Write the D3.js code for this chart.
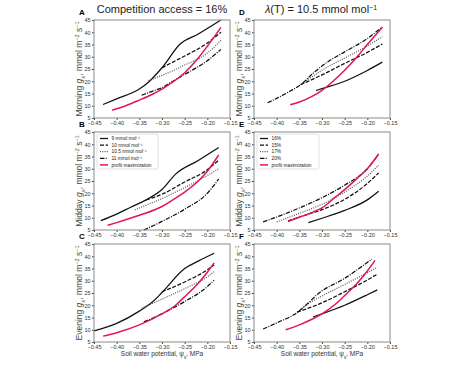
<!DOCTYPE html>
<html>
<head>
<meta charset="utf-8">
<script src="https://cdn.jsdelivr.net/npm/d3@7"></script>
<style>
  body { margin: 0; background: #fff; }
  svg { display: block; font-family: "Liberation Sans", Arial, sans-serif; }
</style>
</head>
<body>
<div id="chart"></div>
<script>
// axis ticks shared by all six panels
const X_TICKS = [-0.45, -0.40, -0.35, -0.30, -0.25, -0.20, -0.15];
const Y_TICKS = [5, 10, 15, 20, 25, 30, 35, 40, 45];

const LEGEND_LEFT  = ["9 mmol mol⁻¹", "10 mmol mol⁻¹", "10.5 mmol mol⁻¹", "11 mmol mol⁻¹", "profit maximization"];
const LEGEND_RIGHT = ["16%", "15%", "17%", "20%", "profit maximization"];
const PERIODS = ["Morning", "Midday", "Evening"];

// A: morning, competition access 16%
const A_9    = [[-0.43,10.5],[-0.40,12.8],[-0.35,16.8],[-0.33,19.6],[-0.30,25.5],[-0.26,35.2],[-0.22,39.3],[-0.17,45]];
const A_10   = [[-0.30,25.5],[-0.27,28.4],[-0.25,30.3],[-0.20,35.6],[-0.17,40]];
const A_105  = [[-0.33,20.3],[-0.30,22.4],[-0.25,26.6],[-0.20,31.5],[-0.17,36.7]];
const A_11   = [[-0.345,14.3],[-0.32,16.0],[-0.30,17.4],[-0.28,19.6],[-0.25,22.8],[-0.20,28.4],[-0.17,33]];
const A_prof = [[-0.41,8.2],[-0.38,10.0],[-0.35,12.3],[-0.32,14.8],[-0.30,16.8],[-0.28,19.2],[-0.25,23.5],[-0.22,29.5],[-0.20,34.3],[-0.17,42]];

// B: midday
const B_9    = [[-0.435,8.8],[-0.40,11.5],[-0.37,14.2],[-0.335,17.3],[-0.30,21.5],[-0.27,27.8],[-0.22,33.4],[-0.175,38.7]];
const B_10   = [[-0.335,17.3],[-0.30,19.6],[-0.25,24.6],[-0.20,29.6],[-0.175,33.5]];
const B_105  = [[-0.36,13.2],[-0.33,15.5],[-0.30,17.8],[-0.27,20.5],[-0.25,22.3],[-0.20,27.2],[-0.175,30]];
const B_11   = [[-0.34,5],[-0.30,8.5],[-0.25,13.5],[-0.20,20],[-0.175,25.8]];
const B_prof = [[-0.42,6.9],[-0.40,8.0],[-0.35,11.0],[-0.30,14.6],[-0.27,18.0],[-0.25,20.5],[-0.22,25],[-0.20,29],[-0.175,35.6]];

// C: evening
const C_9    = [[-0.45,9.5],[-0.40,12.6],[-0.35,17.6],[-0.32,21.5],[-0.30,25.2],[-0.25,35],[-0.22,38],[-0.185,41.2]];
const C_10   = [[-0.30,25.5],[-0.25,29.5],[-0.20,34.5],[-0.185,36.5]];
const C_105  = [[-0.345,18.8],[-0.30,22.5],[-0.25,26.8],[-0.20,31.6],[-0.185,33.7]];
const C_11   = [[-0.34,13.2],[-0.32,14.8],[-0.29,17.5],[-0.25,21.5],[-0.20,27.6],[-0.185,30.2]];
const C_prof = [[-0.43,7.4],[-0.40,8.8],[-0.35,12.0],[-0.30,16.5],[-0.27,20],[-0.25,23.5],[-0.22,29],[-0.20,33.5],[-0.185,37.3]];

// D: morning, lambda(T) = 10.5
const D_16   = [[-0.313,16.2],[-0.30,17.0],[-0.25,20.0],[-0.20,24.4],[-0.167,27.8]];
const D_15   = [[-0.347,18.6],[-0.30,22.6],[-0.25,27.3],[-0.20,31.8],[-0.167,35.2]];
const D_17   = [[-0.347,18.6],[-0.33,20.8],[-0.30,24.5],[-0.25,29.5],[-0.20,34.4],[-0.167,38.2]];
const D_20   = [[-0.42,11.2],[-0.40,13.0],[-0.37,16.0],[-0.347,18.6],[-0.32,23.2],[-0.29,27.6],[-0.25,32.0],[-0.20,37.4],[-0.167,42.2]];
const D_prof = [[-0.37,10.4],[-0.35,11.5],[-0.32,14.0],[-0.30,16.3],[-0.28,19.3],[-0.25,24.5],[-0.22,30.5],[-0.20,35],[-0.167,42]];

// E: midday
const E_16   = [[-0.33,8.0],[-0.30,9.8],[-0.25,13.0],[-0.20,17.3],[-0.175,20.8]];
const E_15   = [[-0.375,8.7],[-0.35,10.3],[-0.30,13.3],[-0.25,17.5],[-0.20,24],[-0.175,28.3]];
const E_17   = [[-0.40,8.3],[-0.35,11.8],[-0.30,15.5],[-0.25,20.5],[-0.20,27],[-0.175,31.5]];
const E_20   = [[-0.43,8.3],[-0.40,10.3],[-0.35,14],[-0.30,18.2],[-0.25,23.3],[-0.20,30],[-0.175,36]];
const E_prof = [[-0.375,8.5],[-0.35,10.2],[-0.32,12.3],[-0.30,14.0],[-0.27,18.5],[-0.25,21.5],[-0.22,26.5],[-0.20,30],[-0.175,36]];

// F: evening
const F_16   = [[-0.32,15.2],[-0.30,16.5],[-0.25,20],[-0.20,24.3],[-0.178,26.3]];
const F_15   = [[-0.355,17.2],[-0.30,21],[-0.25,25.5],[-0.20,30.3],[-0.18,32.5]];
const F_17   = [[-0.355,17.2],[-0.32,21.8],[-0.30,23.8],[-0.25,28.5],[-0.20,33.3],[-0.18,35.3]];
const F_20   = [[-0.43,10.3],[-0.40,12.8],[-0.355,17],[-0.33,21],[-0.31,24.5],[-0.25,31],[-0.19,38.8]];
const F_prof = [[-0.38,10],[-0.35,12],[-0.32,14.5],[-0.30,16.5],[-0.27,20.5],[-0.25,24],[-0.22,29.5],[-0.20,34],[-0.183,38.3]];

// line styles in legend order: solid, dashed, dotted, dash-dot, red
const STYLES = [
  { stroke: "#111", dash: null,        w: 1.25 },
  { stroke: "#111", dash: "4,1.6",     w: 1.25 },
  { stroke: "#555", dash: "1,1.3",     w: 1.2 },
  { stroke: "#111", dash: "4.5,1.3,1,1.3", w: 1.25 },
  { stroke: "#e0194f", dash: null,     w: 1.5 }
];

const W = 474, H = 366, PW = 136, PH = 98;
const svg = d3.select("#chart").append("svg").attr("width", W).attr("height", H);

const panels = [
  { id: "A", x: 94,  y: 20,  row: 0, data: [A_9, A_10, A_105, A_11, A_prof] },
  { id: "B", x: 94,  y: 132, row: 1, data: [B_9, B_10, B_105, B_11, B_prof], legend: LEGEND_LEFT },
  { id: "C", x: 94,  y: 244, row: 2, data: [C_9, C_10, C_105, C_11, C_prof] },
  { id: "D", x: 254, y: 20,  row: 0, data: [D_16, D_15, D_17, D_20, D_prof] },
  { id: "E", x: 254, y: 132, row: 1, data: [E_16, E_15, E_17, E_20, E_prof], legend: LEGEND_RIGHT },
  { id: "F", x: 254, y: 244, row: 2, data: [F_16, F_15, F_17, F_20, F_prof] }
];

const x = d3.scaleLinear().domain([-0.45, -0.15]).range([0, PW]);
const y = d3.scaleLinear().domain([5, 45]).range([PH, 0]);
const fmtX = d => d3.format(".2f")(d).replace("-", "−");

const line = d3.line().x(d => x(d[0])).y(d => y(d[1])).curve(d3.curveMonotoneX);

panels.forEach(p => {
  const g = svg.append("g").attr("transform", `translate(${p.x},${p.y})`);

  p.data.forEach((pts, i) => {
    const s = STYLES[i];
    g.append("path").datum(pts).attr("fill", "none")
      .attr("stroke", s.stroke).attr("stroke-width", s.w)
      .attr("stroke-dasharray", s.dash).attr("d", line);
  });

  g.append("g").attr("transform", `translate(0,${PH})`)
    .call(d3.axisBottom(x).tickValues(X_TICKS).tickFormat(fmtX).tickSize(2).tickPadding(1.5))
    .call(ax => { ax.select(".domain").remove();
      ax.selectAll("line").attr("stroke", "#444");
      ax.selectAll("text").style("font-size", "5.5px").style("fill", "#333"); });

  g.append("g")
    .call(d3.axisLeft(y).tickValues(Y_TICKS).tickSize(2).tickPadding(1.5))
    .call(ax => { ax.select(".domain").remove();
      ax.selectAll("line").attr("stroke", "#444");
      ax.selectAll("text").style("font-size", "5.5px").style("fill", "#333"); });

  g.append("rect").attr("width", PW).attr("height", PH)
    .attr("fill", "none").attr("stroke", "#8a8a8a").attr("stroke-width", 1);

  svg.append("text").attr("x", p.x - 15).attr("y", p.y - 5)
    .style("font-size", "8px").style("font-weight", "bold").text(p.id);

  // y-axis title
  const yl = g.append("text").attr("transform", `translate(-12,${PH / 2}) rotate(-90)`)
    .attr("text-anchor", "middle").style("font-size", "8.5px").style("fill", "#444");
  yl.append("tspan").text(PERIODS[p.row] + " ");
  yl.append("tspan").style("font-style", "italic").text("g");
  yl.append("tspan").attr("baseline-shift", "sub").style("font-size", "6px").style("font-style", "italic").text("s");
  yl.append("tspan").text(", mmol m");
  yl.append("tspan").attr("baseline-shift", "super").style("font-size", "5.5px").text("−2");
  yl.append("tspan").text(" s");
  yl.append("tspan").attr("baseline-shift", "super").style("font-size", "5.5px").text("−1");

  if (p.row === 2) {
    const xl = g.append("text").attr("x", PW / 2).attr("y", PH + 14)
      .attr("text-anchor", "middle").style("font-size", "6.5px").style("fill", "#333");
    xl.append("tspan").text("Soil water potential, ψ");
    xl.append("tspan").attr("baseline-shift", "sub").style("font-size", "4.5px").text("s");
    xl.append("tspan").text(", MPa");
  }

  if (p.legend) {
    const lg = g.append("g").attr("transform", "translate(3,2)");
    const lw = p.id === "B" ? 61 : 62;
    lg.append("rect").attr("width", lw).attr("height", 35).attr("rx", 1.5)
      .attr("fill", "#fff").attr("stroke", "#ccc").attr("stroke-width", 0.6);
    p.legend.forEach((name, i) => {
      const s = STYLES[i];
      const ly = 4.5 + i * 6.6;
      lg.append("line").attr("x1", 3).attr("x2", 11).attr("y1", ly).attr("y2", ly)
        .attr("stroke", s.stroke).attr("stroke-width", s.w).attr("stroke-dasharray", s.dash);
      lg.append("text").attr("x", 14.5).attr("y", ly + 1.7)
        .style("font-size", "4.8px").style("fill", "#222").text(name);
    });
  }
});

// column titles
svg.append("text").attr("x", 162).attr("y", 13).attr("text-anchor", "middle")
  .style("font-size", "11px").style("fill", "#222").text("Competition access = 16%");
const t2 = svg.append("text").attr("x", 321).attr("y", 13).attr("text-anchor", "middle")
  .style("font-size", "11px").style("fill", "#222");
t2.append("tspan").style("font-style", "italic").text("λ");
t2.append("tspan").text("(T) = 10.5 mmol mol");
t2.append("tspan").attr("baseline-shift", "super").style("font-size", "7px").text("−1");
</script>
</body>
</html>
